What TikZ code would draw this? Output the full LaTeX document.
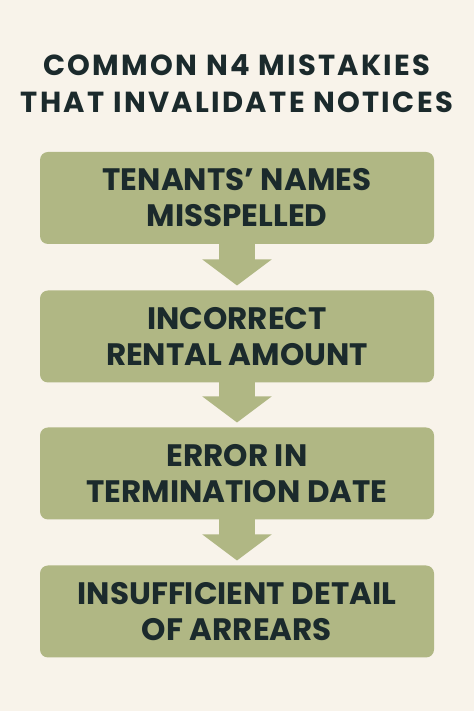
\documentclass[tikz,border=0pt]{standalone}
\usepackage{fontspec}
\setmainfont{Poppins}
\usetikzlibrary{arrows.meta}
\definecolor{paper}{HTML}{F8F3EA}
\definecolor{sage}{HTML}{B0B784}
\definecolor{ink}{HTML}{1B2A2C}
\begin{document}
\begin{tikzpicture}[x=1pt,y=1pt]
	\tikzstyle{mistake}=[rectangle,rounded corners=8pt,fill=sage,minimum width=394pt,minimum height=92pt,inner sep=0pt,outer sep=0pt,align=center,text=ink,font=\fontsize{31}{36}\selectfont\bfseries]
	\tikzstyle{flow}=[draw=sage,line width=36pt,-{Triangle[width=68pt,length=26pt]},shorten >=5pt]
	% background and title
	\fill[paper] (0,0) rectangle (474,711);
	\node [align=center,text=ink,font=\fontsize{29}{37}\selectfont\bfseries\addfontfeatures{LetterSpace=8}] (title) at (237,627) {COMMON N4 MISTAKIES\\THAT INVALIDATE NOTICES};
	\begin{scope}
		\node [mistake] (m1) at (237,513) {TENANTS’ NAMES\\MISSPELLED};
		\node [mistake] (m2) at (237,374.5) {INCORRECT\\RENTAL AMOUNT};
		\node [mistake] (m3) at (237,237.5) {ERROR IN\\TERMINATION DATE};
		\node [mistake] (m4) at (237,99.5) {INSUFFICIENT DETAIL\\OF ARREARS};
		\path[flow] (m1.south) -- (m2.north);
		\path[flow] (m2.south) -- (m3.north);
		\path[flow] (m3.south) -- (m4.north);
	\end{scope}
\end{tikzpicture}
\end{document}
